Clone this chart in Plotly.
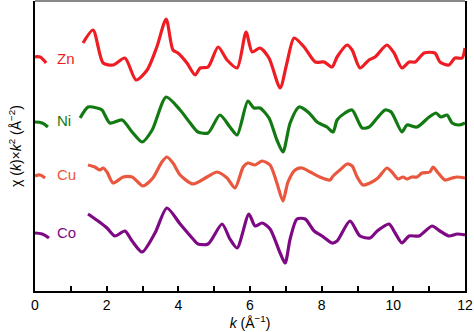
import plotly.graph_objects as go

# ---- data (k in 1/Å, chi*k^2 in arbitrary offset units) ----
zn_k = [1.34, 1.62, 1.90, 2.18, 2.51, 2.82, 3.13, 3.40, 3.66, 3.85, 3.99, 4.24, 4.47, 4.61, 4.83,
        5.11, 5.36, 5.64, 5.89, 6.06, 6.28, 6.53, 6.84, 7.03, 7.23, 7.51, 7.82, 8.07, 8.29, 8.43,
        8.71, 8.85, 9.07, 9.32, 9.49, 9.82, 10.02, 10.24, 10.44, 10.61, 10.86, 11.16, 11.30, 11.55,
        11.72, 11.92, 12.0]
zn_v = [17, 30, -3, -5, 2, -20, -10, 13, 41, 10, 7, -3, -15, -8, -7, 13, 0, -8, 28, 8, 12, 2, -28,
        -3, 22, 13, -2, -2, -7, 3, 15, 10, -8, 0, 3, 15, 7, -8, -2, -2, 7, 7, -2, -5, 2, 2, 12]

ni_k = [1.26, 1.48, 1.73, 1.87, 2.09, 2.43, 2.71, 2.99, 3.27, 3.66, 4.05, 4.33, 4.55, 4.83, 5.16,
        5.44, 5.64, 5.94, 6.11, 6.28, 6.53, 6.75, 6.92, 7.12, 7.37, 7.65, 7.87, 8.15, 8.32, 8.43,
        8.65, 8.85, 9.13, 9.32, 9.55, 9.77, 9.94, 10.24, 10.38, 10.66, 11.00, 11.19, 11.33, 11.50,
        11.64, 11.83, 12.0]
ni_v = [4, 15, 14, 12, -1, 2, -10, -20, -8, 25, 12, -1, -10, -11, 7, -5, -13, 21, 14, 14, 4, -18,
        -30, -1, 15, 9, 0, -5, -10, 2, 9, 12, -6, -5, 4, 12, 10, -10, -3, -5, 5, 9, 5, 7, -1, -3, -1]

cu_k = [1.48, 1.67, 1.81, 1.90, 2.01, 2.18, 2.46, 2.71, 3.01, 3.29, 3.54, 3.68, 3.85, 4.05, 4.41,
        4.80, 5.08, 5.36, 5.58, 5.81, 5.94, 6.14, 6.34, 6.56, 6.75, 6.92, 7.06, 7.26, 7.45, 7.68,
        7.95, 8.23, 8.32, 8.51, 8.71, 8.85, 8.99, 9.15, 9.35, 9.57, 9.82, 9.96, 10.13, 10.27, 10.38,
        10.52, 10.66, 10.80, 11.02, 11.11, 11.25, 11.44, 11.64, 11.78, 12.0]
cu_v = [11, 9, 6, 8, 4, -7, -1, -1, -10, -2, 14, 19, 13, 1, -8, -1, 4, -2, -12, 9, 13, 11, 15, 11,
        -7, -25, -6, 6, 8, 4, -1, -4, 0, 6, 12, 10, -1, -9, -7, -2, 8, 4, -3, -1, -3, -1, -1, 3, 4,
        9, 3, -4, -2, -1, -2]

co_k = [1.48, 1.76, 2.01, 2.23, 2.51, 2.71, 2.99, 3.35, 3.68, 4.05, 4.41, 4.55, 4.83, 5.22, 5.44,
        5.64, 5.97, 6.14, 6.34, 6.56, 6.84, 6.98, 7.12, 7.31, 7.54, 7.79, 8.01, 8.29, 8.43, 8.79,
        9.07, 9.35, 9.55, 9.88, 10.05, 10.24, 10.44, 10.72, 11.08, 11.30, 11.55, 11.78, 12.0]
co_v = [20, 13, 6, -2, 3, -7, -18, 1, 26, 10, -5, -10, -10, 10, -5, -14, 20, 8, 11, 5, -19, -29, -5,
        15, 15, 3, -2, -9, -7, 13, -2, -4, 3, 10, 1, -9, -2, -2, 8, 3, -2, 0, -1]

# short key segments at the left edge
key_k = {"Zn": [0, 0.14, 0.31], "Ni": [0, 0.2, 0.36], "Cu": [0, 0.14, 0.28], "Co": [0, 0.2, 0.39]}
key_v = {"Zn": [3, 3, -3], "Ni": [0, -1, -5], "Cu": [0, 1, -2], "Co": [1, 0, -4]}

names = ["Zn", "Ni", "Cu", "Co"]
offsets = [231, 169, 115, 57]
colors = ["#ee1d23", "#137a13", "#e8573e", "#7d0a84"]
series_k = [zn_k, ni_k, cu_k, co_k]
series_v = [zn_v, ni_v, cu_v, co_v]

fig = go.Figure()
for name, off, col, ks, vs in zip(names, offsets, colors, series_k, series_v):
    fig.add_trace(go.Scatter(x=ks, y=[v + off for v in vs], mode="lines",
                             line=dict(color=col, width=3.2, shape="spline", smoothing=0.7),
                             showlegend=False, hoverinfo="skip"))
    fig.add_trace(go.Scatter(x=key_k[name], y=[v + off for v in key_v[name]], mode="lines",
                             line=dict(color=col, width=3.2, shape="spline"),
                             showlegend=False, hoverinfo="skip", cliponaxis=False))
    fig.add_annotation(x=0.55, y=off + 2, text=name, showarrow=False, xanchor="left",
                       yanchor="middle", font=dict(color=col, size=15))

font_family = "Liberation Sans, Arial, sans-serif"
fig.update_layout(
    width=474, height=332,
    margin=dict(l=35, r=9, t=1, b=41),
    paper_bgcolor="white", plot_bgcolor="white",
    font=dict(family=font_family, size=14, color="black"),
    xaxis=dict(range=[0, 12], tick0=0, dtick=2,
               ticks="inside", ticklen=5, tickwidth=1.5, tickcolor="black",
               minor=dict(dtick=1, ticks="inside", ticklen=5, tickwidth=1.5,
                          tickcolor="black", showgrid=False),
               showline=True, linecolor="black", linewidth=2, mirror=False,
               showgrid=False, zeroline=False,
               title=dict(text="<i>k</i> (Å<sup>−1</sup>)", standoff=4, font=dict(size=14))),
    yaxis=dict(range=[0, 290], showticklabels=False, ticks="",
               showline=True, linecolor="black", linewidth=2, mirror=True,
               showgrid=False, zeroline=False,
               title=dict(text="χ (<i>k</i>)×<i>k</i><sup>2</sup> (Å<sup>−2</sup>)",
                          standoff=8, font=dict(size=14))),
    shapes=[dict(type="line", xref="paper", yref="paper", x0=0, x1=1, y0=1, y1=1,
                 line=dict(color="#888888", width=2))],
)

fig.write_html("out.html")
